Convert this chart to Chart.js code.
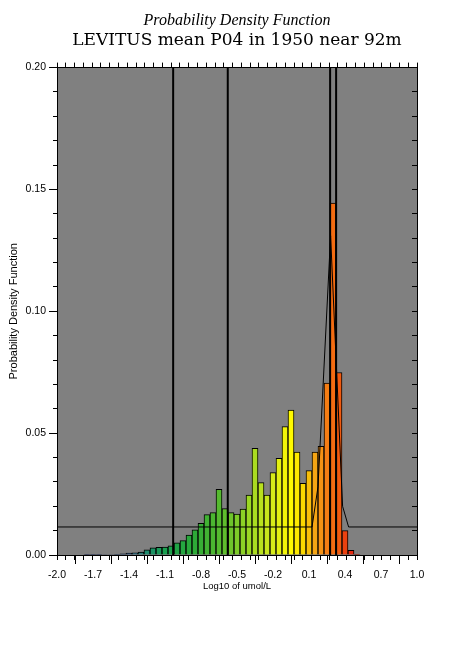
<!DOCTYPE html>
<html lang="en">
<head>
    <meta charset="UTF-8">
    <title>Probability Density Function - LEVITUS mean P04</title>
    <script src="https://cdn.jsdelivr.net/npm/chart.js"></script>
    <style>
        html, body {
            margin: 0;
            padding: 0;
            background: #ffffff;
        }
        #pdfChart {
            display: block;
        }
    </style>
</head>
<body>
    <canvas id="pdfChart" width="474" height="670"></canvas>

    <script>
        // histogram bins (centre of each 0.05 wide bin, log10 umol/L)
        const binCenters = [
            -1.75, -1.70, -1.65, -1.60, -1.55, -1.50, -1.45, -1.40, -1.35, -1.30,
            -1.25, -1.20, -1.15, -1.10, -1.05, -1.00, -0.95, -0.90, -0.85, -0.80,
            -0.75, -0.70, -0.65, -0.60, -0.55, -0.50, -0.45, -0.40, -0.35, -0.30,
            -0.25, -0.20, -0.15, -0.10, -0.05, 0.00, 0.05, 0.10, 0.15, 0.20,
            0.25, 0.30, 0.35, 0.40, 0.45, 0.50
        ];
        const pdfValues = [
            0.0003, 0.0001, 0.0001, 0.0002, 0.0002, 0.0003, 0.0005, 0.0008, 0.0009, 0.0012,
            0.0021, 0.0029, 0.0031, 0.0033, 0.0038, 0.0050, 0.0059, 0.0082, 0.0103, 0.0130,
            0.0166, 0.0174, 0.0269, 0.0190, 0.0174, 0.0168, 0.0188, 0.0246, 0.0438, 0.0297,
            0.0246, 0.0338, 0.0397, 0.0527, 0.0595, 0.0422, 0.0294, 0.0346, 0.0422, 0.0446,
            0.0705, 0.1444, 0.0749, 0.0100, 0.0019, 0.0003
        ];

        // thin fitted curve drawn over the histogram
        const fitX = [-2.0, 0.125, 0.175, 0.28, 0.38, 0.43, 1.0];
        const fitY = [0.0115, 0.0115, 0.028, 0.131, 0.020, 0.0115, 0.0115];

        // thick vertical marker lines
        const markerX = [-1.032, -0.577, 0.276, 0.326];

        // axis ranges and tick steps
        const xRange = [-2.0, 1.0];
        const yRange = [0.0, 0.20];
        const xMajorStep = 0.3, xMinorStep = 0.075;
        const yMajorStep = 0.05, yMinorStep = 0.01;

        // colour ramp along the x axis (blue -> green -> yellow -> red)
        const rampStops = [
            [-1.75, [60, 70, 130]],
            [-1.40, [55, 95, 140]],
            [-1.25, [30, 140, 110]],
            [-1.10, [25, 160, 80]],
            [-0.85, [45, 170, 55]],
            [-0.60, [95, 190, 45]],
            [-0.40, [155, 215, 35]],
            [-0.20, [215, 235, 25]],
            [-0.05, [255, 250, 0]],
            [0.05, [250, 215, 0]],
            [0.15, [245, 165, 20]],
            [0.25, [245, 125, 20]],
            [0.35, [240, 90, 15]],
            [0.45, [230, 40, 15]]
        ];

        function rampColor(v) {
            if (v <= rampStops[0][0]) return 'rgb(' + rampStops[0][1].join(',') + ')';
            for (let i = 1; i < rampStops.length; i++) {
                const [v1, c1] = rampStops[i];
                if (v <= v1) {
                    const [v0, c0] = rampStops[i - 1];
                    const t = (v - v0) / (v1 - v0);
                    const c = c0.map((a, k) => Math.round(a + (c1[k] - a) * t));
                    return 'rgb(' + c.join(',') + ')';
                }
            }
            return 'rgb(' + rampStops[rampStops.length - 1][1].join(',') + ')';
        }

        // gray plot background
        const plotBackground = {
            id: 'plotBackground',
            beforeDraw(chart) {
                const { ctx, chartArea: a } = chart;
                ctx.save();
                ctx.fillStyle = '#808080';
                ctx.fillRect(a.left, a.top, a.right - a.left, a.bottom - a.top);
                ctx.restore();
            }
        };

        const axisFont = { family: 'Liberation Sans', size: 10.5 };
        const noGrid = (len) => ({ drawOnChartArea: false, tickLength: len, tickColor: '#000', tickWidth: 1 });

        const datasets = [];

        markerX.forEach(x => {
            datasets.push({
                type: 'line',
                data: [{ x: x, y: yRange[0] }, { x: x, y: yRange[1] }],
                borderColor: '#000',
                borderWidth: 2,
                pointRadius: 0,
                order: 0
            });
        });

        datasets.push({
            type: 'line',
            data: fitX.map((x, i) => ({ x: x, y: fitY[i] })),
            borderColor: '#000',
            borderWidth: 1,
            pointRadius: 0,
            tension: 0,
            order: 1
        });

        datasets.push({
            type: 'bar',
            data: binCenters.map((x, i) => ({ x: x, y: pdfValues[i] })),
            backgroundColor: ctx => rampColor(ctx.raw ? ctx.raw.x : 0),
            borderColor: '#000',
            borderWidth: 1,
            barPercentage: 1.0,
            categoryPercentage: 1.0,
            order: 2
        });

        new Chart(document.getElementById('pdfChart'), {
            type: 'bar',
            data: { datasets: datasets },
            plugins: [plotBackground],
            options: {
                responsive: false,
                animation: false,
                devicePixelRatio: 1,
                layout: { padding: 0 },
                plugins: {
                    legend: { display: false },
                    tooltip: { enabled: false },
                    title: {
                        display: true,
                        text: 'Probability Density Function',
                        color: '#000',
                        font: { family: 'Liberation Serif', style: 'italic', size: 16, weight: 'normal' },
                        padding: { top: 11, bottom: 0 }
                    },
                    subtitle: {
                        display: true,
                        text: 'LEVITUS mean P04 in 1950 near 92m',
                        color: '#000',
                        font: { family: 'DejaVu Serif', size: 17, weight: 'normal' },
                        padding: { top: 0, bottom: 12 }
                    }
                },
                scales: {
                    x: {
                        type: 'linear',
                        position: 'bottom',
                        min: xRange[0],
                        max: xRange[1],
                        offset: false,
                        grid: noGrid(9),
                        border: { color: '#000', width: 1 },
                        ticks: {
                            stepSize: xMajorStep,
                            color: '#000',
                            padding: 5,
                            maxRotation: 0,
                            autoSkip: false,
                            font: axisFont,
                            callback: v => v.toFixed(1)
                        },
                        title: {
                            display: true,
                            text: 'Log10 of umol/L',
                            color: '#000',
                            font: { family: 'Liberation Sans', size: 9.5 },
                            padding: { top: 0, bottom: 78 }
                        },
                        afterFit: s => { s.height = 115; }
                    },
                    xMinor: {
                        axis: 'x',
                        type: 'linear',
                        position: { y: 0 },
                        min: xRange[0],
                        max: xRange[1],
                        grid: noGrid(5),
                        border: { display: false },
                        ticks: { display: false, stepSize: xMinorStep }
                    },
                    xTop: {
                        axis: 'x',
                        type: 'linear',
                        position: 'top',
                        min: xRange[0],
                        max: xRange[1],
                        grid: noGrid(5),
                        border: { color: '#000', width: 1 },
                        ticks: { display: false, stepSize: xMinorStep }
                    },
                    y: {
                        type: 'linear',
                        position: 'left',
                        min: yRange[0],
                        max: yRange[1],
                        grid: noGrid(8),
                        border: { color: '#000', width: 1 },
                        ticks: {
                            stepSize: yMajorStep,
                            color: '#000',
                            padding: 3,
                            font: axisFont,
                            callback: v => v.toFixed(2)
                        },
                        title: {
                            display: true,
                            text: 'Probability Density Function',
                            color: '#000',
                            font: { family: 'Liberation Sans', size: 11 },
                            padding: { top: 7, bottom: 0 }
                        },
                        afterFit: s => { s.width = 57; }
                    },
                    yMinor: {
                        axis: 'y',
                        type: 'linear',
                        position: { x: xRange[0] },
                        min: yRange[0],
                        max: yRange[1],
                        grid: noGrid(4),
                        border: { display: false },
                        ticks: { display: false, stepSize: yMinorStep }
                    },
                    yRight: {
                        axis: 'y',
                        type: 'linear',
                        position: { x: xRange[1] },
                        min: yRange[0],
                        max: yRange[1],
                        grid: noGrid(5),
                        border: { color: '#000', width: 1 },
                        ticks: { display: false, stepSize: yMinorStep }
                    },
                    // empty right-hand margin so the titles stay centred on the page
                    ySpacer: {
                        axis: 'y',
                        type: 'linear',
                        position: 'right',
                        min: yRange[0],
                        max: yRange[1],
                        grid: { display: false },
                        border: { display: false },
                        ticks: { display: false },
                        afterFit: s => { s.width = 57; }
                    }
                }
            }
        });
    </script>
</body>
</html>
